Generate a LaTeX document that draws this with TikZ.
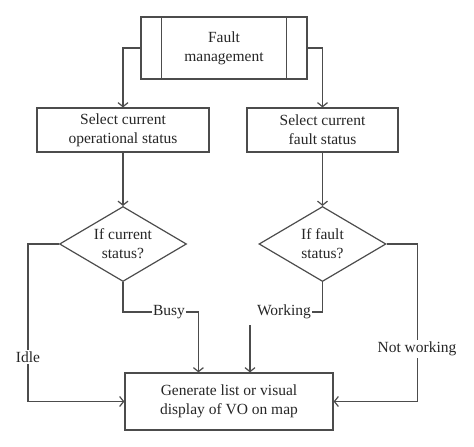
\documentclass[tikz,border=0pt]{standalone}
\usepackage{fontspec}
\setmainfont{Liberation Serif}
\usetikzlibrary{shapes,arrows.meta,positioning,calc}

\begin{document}
\begin{tikzpicture}[x=1pt,y=-1pt,
  every node/.style={font=\fontsize{15.5}{19}\selectfont,text=black!85},
  box/.style={draw=black!70,line width=1.2pt,rectangle,align=center,inner sep=0pt},
  decide/.style={draw=black!70,line width=1.2pt,diamond,aspect=1.7,inner sep=0pt,align=center,minimum width=127pt,minimum height=75pt},
  lbl/.style={fill=white,inner sep=1.5pt},
  line/.style={draw=black!70,line width=1.2pt},
  arr/.style={line,-{Straight Barb[length=4pt,width=10pt]}}]
\useasboundingbox (0,0) rectangle (474,447);
\node[box,minimum width=166pt,minimum height=62pt] (fault) at (224,48) {Fault\\management};
\node[box,minimum width=172pt,minimum height=44pt] (opstat) at (123,130) {Select current\\operational status};
\node[box,minimum width=151pt,minimum height=44pt] (faultstat) at (322.5,130) {Select current\\fault status};
\node[decide] (ifcur) at (123,244) {If current\\status?};
\node[decide] (iffault) at (322.5,244) {If fault\\status?};
\node[box,minimum width=208pt,minimum height=57pt] (gen) at (229,401.5) {Generate list or visual\\display of VO on map};

\draw[line] ($(fault.north west)+(21,0)$) -- ($(fault.south west)+(21,0)$);
\draw[line] ($(fault.north east)+(-21,0)$) -- ($(fault.south east)+(-21,0)$);

\draw[arr] (fault.west) -| (opstat.north);
\draw[arr] (fault.east) -| (faultstat.north);
\draw[arr] (opstat) -- (ifcur);
\draw[arr] (faultstat) -- (iffault);

\draw[arr] (ifcur.west) -- ++(-31,0) |- (gen.west);
\node[lbl] (idle) at (28,357) {Idle};
\draw[arr] (iffault.east) -- ++(31,0) |- (gen.east);
\node[lbl] (notworking) at (417,349) {Not working};

\node[lbl,inner sep=0.5pt] (busy) at (169,312) {Busy};
\draw[line] (ifcur.south) |- (busy.west);
\draw[arr] (busy.east) -| ($(gen.north west)+(74,0)$);

\node[lbl,inner sep=0.5pt] (working) at (284,312) {Working};
\draw[line] (iffault.south) |- (working.east);

\coordinate (extra) at (250,325);
\draw[arr] (extra) -- (extra |- gen.north);
\end{tikzpicture}
\end{document}
